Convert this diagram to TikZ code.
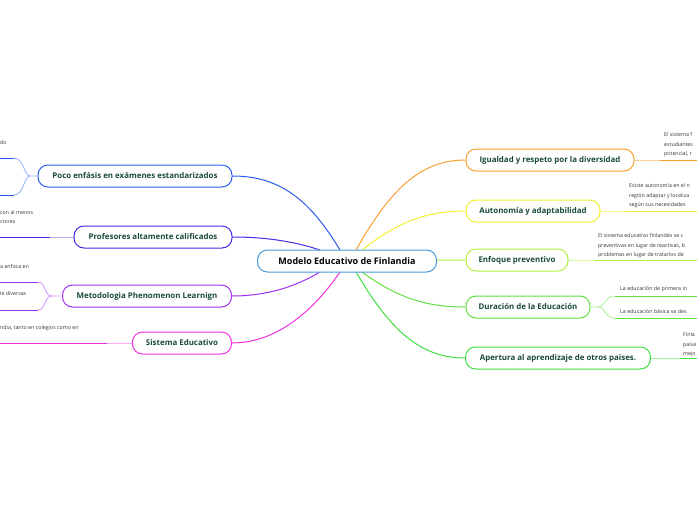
\documentclass[tikz,border=0pt]{standalone}
\usepackage{fontspec}
\setmainfont{Open Sans}
\usetikzlibrary{backgrounds}
\begin{document}
\begin{tikzpicture}[x=1pt,y=-1pt,
 topic/.style={draw,line width=1pt,rounded corners=10pt,fill=white,font=\bfseries\fontsize{7.9}{9}\selectfont,text=tg,inner xsep=9pt,minimum height=22pt},
 sm/.style={font=\fontsize{5.3}{9.6}\selectfont,text=black!80,align=left,inner sep=0pt},
 e/.style={line width=1pt},
 br/.style={line width=0.8pt}]
\definecolor{tg}{HTML}{1A4A3A}
\definecolor{cc}{HTML}{4A9AD8}
\definecolor{c1}{HTML}{2B5CF0}\definecolor{c2}{HTML}{4A28E8}\definecolor{c3}{HTML}{A030F0}\definecolor{c4}{HTML}{F030E0}
\definecolor{d1}{HTML}{F8A030}\definecolor{d2}{HTML}{F0F030}\definecolor{d3}{HTML}{B0F040}\definecolor{d4}{HTML}{60E040}\definecolor{d5}{HTML}{40E040}
\useasboundingbox (0,0) rectangle (697,520);
\clip (0,0) rectangle (697,520);
\node[topic,draw=cc,minimum width=179pt,font=\bfseries\fontsize{9}{10}\selectfont,text=black] (c) at (347,261) {Modelo Educativo de Finlandia};
\node[topic,draw=c1,minimum width=194pt] (p1) at (135,176) {Poco enfásis en exámenes estandarizados};
\node[topic,draw=c2,minimum width=158pt] (p2) at (153,237) {Profesores altamente calificados};
\node[topic,draw=c3,minimum width=169pt] (p3) at (147,296) {Metodologia Phenomenon Learnign};
\node[topic,draw=c4,minimum width=99pt] (p4) at (182,343) {Sistema Educativo};
\node[topic,draw=d1,minimum width=168pt] (q1) at (550,160) {Igualdad y respeto por la diversidad};
\node[topic,draw=d2,minimum width=134pt] (q2) at (533,211) {Autonomía y adaptabilidad};
\node[topic,draw=d3,minimum width=102pt] (q3) at (517,260) {Enfoque preventivo};
\node[topic,draw=d4,minimum width=124pt] (q4) at (528,307) {Duración de la Educación};
\node[topic,draw=d5,minimum width=185pt] (q5) at (558,358) {Apertura al aprendizaje de otros paises.};
% small texts
\node[sm,anchor=west] (t1) at (0,143) {do};
\node[sm,anchor=west] (t2) at (0,217) {con al menos\\ctores};
\node[sm,anchor=west] (t3) at (0,266) {a enfoca en};
\node[sm,anchor=west] (t3b) at (0,294) {le diversas};
\node[sm,anchor=west] (t4) at (0,328) {ndia, tanto en colegios como en};
\node[sm,anchor=west] (s1) at (664,145) {El sistema f\\estudiantes\\potencial, r};
\node[sm,anchor=west] (s2) at (629,196) {Existe autonomía en el n\\región adaptar y localiza\\según sus necesidades};
\node[sm,anchor=west] (s3) at (598,246) {El sistema educativo finlandés se c\\preventivas en lugar de reactivas, b\\problemas en lugar de tratarlos de};
\node[sm,anchor=west] (s4a) at (620,289) {La educación de primera in};
\node[sm,anchor=west] (s4b) at (620,311) {La educación básica va des};
\node[sm,anchor=west] (s5) at (683,345) {Finla\\paíse\\mejo};
% connection points
\coordinate (a1) at (14,158); \coordinate (a2) at (14,195);
\coordinate (b1) at (-5,237); \coordinate (b2) at (50,237);
\coordinate (m1) at (-5,282); \coordinate (m2) at (-5,310); \coordinate (m1e) at (38,282); \coordinate (m2e) at (38,310);
\coordinate (n1) at (-5,343); \coordinate (n2) at (107,343);
\coordinate (o1) at (660,160); \coordinate (o2) at (700,160);
\coordinate (y1) at (625,211); \coordinate (y2) at (700,211);
\coordinate (l1) at (595,260); \coordinate (l2) at (700,260);
\coordinate (g1) at (615,296); \coordinate (g2) at (615,318);
\coordinate (g1e) at (700,296); \coordinate (g2e) at (700,318);
\coordinate (h1) at (680,358); \coordinate (h2) at (700,358);
\begin{scope}[on background layer]
% centre edges
\draw[e,c1] (340,250) .. controls (310,200) and (280,176) .. (p1.east);
\draw[e,c2] (320,250) .. controls (290,240) and (260,237) .. (p2.east);
\draw[e,c3] (320,272) .. controls (290,290) and (260,296) .. (p3.east);
\draw[e,c4] (340,272) .. controls (300,330) and (260,343) .. (p4.east);
\draw[e,d1] (356,250) .. controls (390,190) and (420,160) .. (q1.west);
\draw[e,d2] (362,250) .. controls (400,220) and (430,211) .. (q2.west);
\draw[e,d3] (c.east |- 0,261) ++(-12,0) .. controls (420,260) and (440,260) .. (q3.west);
\draw[e,d4] (362,272) .. controls (400,300) and (430,307) .. (q4.west);
\draw[e,d5] (356,272) .. controls (390,330) and (420,358) .. (q5.west);
% sub branches left
\draw[br,c1!50] (p1.west) -- (30,176) .. controls (24,176) and (24,158) .. (a1);
\draw[br,c1!50] (30,176) .. controls (24,176) and (24,195) .. (a2);
\draw[e,c1] (a1) -- (-5,158); \draw[e,c1] (a2) -- (-5,195);
\draw[br,c2!40] (p2.west) -- (b2);
\draw[e,c2] (b2) -- (b1);
\draw[br,c3!50] (p3.west) -- (52,296) .. controls (44,296) and (46,282) .. (m1e);
\draw[br,c3!50] (52,296) .. controls (44,296) and (46,310) .. (m2e);
\draw[e,c3] (m1e) -- (m1); \draw[e,c3] (m2e) -- (m2);
\draw[br,c4!40] (p4.west) -- (n2);
\draw[e,c4] (n2) -- (n1);
% sub branches right
\draw[br,d1!50] (q1.east) -- (o1); \draw[e,d1] (o1) -- (o2);
\draw[br,d2!50] (q2.east) -- (y1); \draw[e,d2] (y1) -- (y2);
\draw[br,d3!50] (q3.east) -- (l1); \draw[e,d3] (l1) -- (l2);
\draw[br,d4!50] (q4.east) -- (598,307) .. controls (606,307) and (604,296) .. (g1);
\draw[br,d4!50] (598,307) .. controls (606,307) and (604,318) .. (g2);
\draw[e,d4] (g1) -- (g1e); \draw[e,d4] (g2) -- (g2e);
\draw[br,d5!50] (q5.east) -- (h1); \draw[e,d5] (h1) -- (h2);
\end{scope}
\end{tikzpicture}
\end{document}
